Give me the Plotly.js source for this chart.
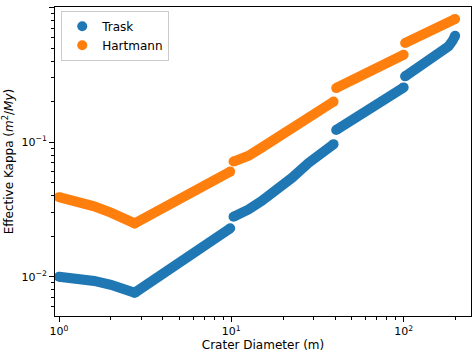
<!DOCTYPE html>
<html>
<head>
<meta charset="utf-8">
<script src="https://cdn.plot.ly/plotly-3.0.1.min.js"></script>
<style>html,body{margin:0;padding:0;background:#fff;}#chart{width:474px;height:353px;}</style>
</head>
<body>
<div id="chart"></div>
<script>
// Crater diameter (m) per segment
var traskX = [
  [1.0, 1.3, 1.6, 2.0, 2.4, 2.75],
  [2.75, 9.85],
  [10.3, 11.5, 12.6, 15.0, 17.9, 22.5, 28.0, 33.0, 39.2],
  [40.6, 100],
  [102, 115, 133, 147, 160, 172, 182, 192, 199]
];
var traskY = [
  [0.0100, 0.0097, 0.0093, 0.0087, 0.0081, 0.0076],
  [0.0076, 0.0229],
  [0.0279, 0.0296, 0.0316, 0.0365, 0.0429, 0.0543, 0.0698, 0.0825, 0.0966],
  [0.123, 0.255],
  [0.308, 0.342, 0.387, 0.417, 0.448, 0.480, 0.515, 0.565, 0.618]
];
var hartX = [
  [1.0, 1.3, 1.6, 2.0, 2.4, 2.75],
  [2.75, 9.85],
  [10.3, 11.5, 12.6, 15.0, 17.9, 22.5, 28.0, 33.0, 39.2],
  [40.6, 100],
  [102, 199]
];
var hartY = [
  [0.0390, 0.0361, 0.0333, 0.0299, 0.0272, 0.0249],
  [0.0249, 0.0604],
  [0.0717, 0.0750, 0.0793, 0.0910, 0.106, 0.130, 0.156, 0.177, 0.200],
  [0.252, 0.446],
  [0.545, 0.823]
];
var seriesNames = ['Trask', 'Hartmann'];
var seriesColors = ['#1f77b4', '#ff7f0e'];
var xTickVals = [1, 10, 100];
var xTickText = ['10<sup>0</sup>', '10<sup>1</sup>', '10<sup>2</sup>'];
var yTickVals = [0.01, 0.1, 1];
var yTickText = ['10<sup>\u22122</sup>', '10<sup>\u22121</sup>', '10<sup>0</sup>'];

function joinSegs(segs) {
  var out = [];
  segs.forEach(function (s, i) {
    if (i > 0) out.push(null);
    out = out.concat(s);
  });
  return out;
}
function ends(segs) {
  var out = [];
  segs.forEach(function (s) { out.push(s[0]); out.push(s[s.length - 1]); });
  return out;
}

var sets = [[traskX, traskY], [hartX, hartY]];
var data = [];
sets.forEach(function (s, i) {
  data.push({
    x: joinSegs(s[0]), y: joinSegs(s[1]), type: 'scatter', mode: 'lines',
    connectgaps: false, showlegend: false, hoverinfo: 'skip',
    line: {color: seriesColors[i], width: 10, shape: 'linear'}
  });
  data.push({
    x: ends(s[0]), y: ends(s[1]), type: 'scatter', mode: 'markers',
    name: seriesNames[i],
    marker: {color: seriesColors[i], size: 10, line: {width: 0}}
  });
});

var minorX = [2,3,4,5,6,7,8,9,20,30,40,50,60,70,80,90,200];
var minorY = [0.006,0.007,0.008,0.009,0.02,0.03,0.04,0.05,0.06,0.07,0.08,0.09,0.2,0.3,0.4,0.5,0.6,0.7,0.8,0.9];

var axisCommon = {
  type: 'log', showgrid: false, zeroline: false,
  showline: true, mirror: true, linecolor: '#000', linewidth: 1,
  ticks: 'outside', ticklen: 5, tickwidth: 1, tickcolor: '#000',
  tickmode: 'array',
  tickfont: {family: 'DejaVu Sans', size: 11, color: '#000'}
};
var titleFont = {family: 'DejaVu Sans', size: 12, color: '#000'};

var layout = {
  width: 474, height: 353,
  margin: {l: 55, r: 3, t: 7, b: 37},
  paper_bgcolor: '#fff', plot_bgcolor: '#fff',
  font: {family: 'DejaVu Sans', size: 11, color: '#000'},
  xaxis: Object.assign({}, axisCommon, {
    range: [Math.log10(0.948), Math.log10(246)],
    tickvals: xTickVals, ticktext: xTickText,
    minor: {tickmode: 'array', tickvals: minorX, ticks: 'outside', ticklen: 3, tickcolor: '#000', showgrid: false},
    title: {text: 'Crater Diameter (m)', font: titleFont, standoff: 3}
  }),
  yaxis: Object.assign({}, axisCommon, {
    range: [-2.292, 0.004],
    tickvals: yTickVals, ticktext: yTickText,
    minor: {tickmode: 'array', tickvals: minorY, ticks: 'outside', ticklen: 3, tickcolor: '#000', showgrid: false},
    title: {text: 'Effective Kappa (<i>m</i><sup>2</sup>/<i>My</i>)', font: titleFont, standoff: 5}
  }),
  legend: {
    x: 0.015, y: 0.988, xanchor: 'left', yanchor: 'top',
    bgcolor: 'rgba(255,255,255,0.8)', bordercolor: '#cccccc', borderwidth: 1,
    font: {family: 'DejaVu Sans', size: 12, color: '#000'},
    itemsizing: 'trace', tracegroupgap: 0
  },
  showlegend: true
};

Plotly.newPlot('chart', data, layout, {displayModeBar: false, staticPlot: true});
</script>
</body>
</html>
